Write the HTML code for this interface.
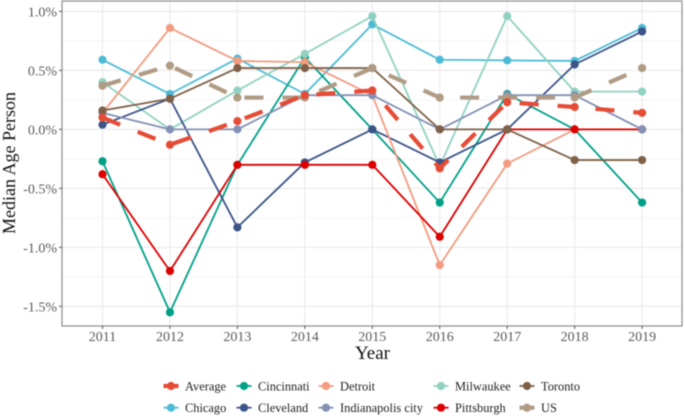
<!DOCTYPE html>
<html lang="en">
<head>
<meta charset="utf-8">
<title>Median Age Person</title>
<style>
html,body{margin:0;padding:0;background:#fff;}
svg{display:block;font-family:"Liberation Serif",serif;filter:blur(0.45px);}
</style>
</head>
<body>
<svg id="chart" xmlns="http://www.w3.org/2000/svg" width="685" height="416" viewBox="0 0 685 416"></svg>
<script>
const years = [2011,2012,2013,2014,2015,2016,2017,2018,2019];
const yTicks = [1.0,0.5,0,-0.5,-1.0,-1.5];
const yTickLabels = ['1.0%','0.5%','0.0%','-0.5%','-1.0%','-1.5%'];
const yMinorTicks = [0.75,0.25,-0.25,-0.75,-1.25];

const chicago = [0.59,0.30,0.60,0.30,0.89,0.59,0.585,0.58,0.86];
const cincinnati = [-0.27,-1.55,-0.30,0.61,0,-0.62,0.30,0,-0.62];
const cleveland = [0.04,0.26,-0.83,-0.28,0,-0.28,0,0.55,0.83];
const detroit = [0.14,0.86,0.58,0.57,0.29,-1.15,-0.29,0,0];
const indianapolis = [0.14,0,0,0.29,0.29,0,0.29,0.29,0];
const milwaukee = [0.40,0,0.33,0.64,0.96,-0.31,0.96,0.32,0.32];
const pittsburgh = [-0.38,-1.20,-0.30,-0.30,-0.30,-0.91,0,0,0];
const toronto = [0.16,0.26,0.52,0.52,0.52,0,0,-0.26,-0.26];
const usa = [0.37,0.54,0.27,0.27,0.52,0.27,0.27,0.27,0.52];
const average = [0.10,-0.13,0.07,0.29,0.33,-0.33,0.23,0.19,0.14];

const seriesList = [
  {name:'Chicago',slug:'chicago',color:'#4DBBD5',values:chicago},
  {name:'Cincinnati',slug:'cincinnati',color:'#00A087',values:cincinnati},
  {name:'Milwaukee',slug:'milwaukee',color:'#91D1C2',values:milwaukee},
  {name:'Cleveland',slug:'cleveland',color:'#3C5488',values:cleveland},
  {name:'Detroit',slug:'detroit',color:'#F39B7F',values:detroit},
  {name:'Pittsburgh',slug:'pittsburgh',color:'#DC0000',values:pittsburgh},
  {name:'Indianapolis city',slug:'indianapolis',color:'#8491B4',values:indianapolis},
  {name:'Toronto',slug:'toronto',color:'#7E6148',values:toronto},
  {name:'US',slug:'us',color:'#B09C85',values:usa,dashed:true},
  {name:'Average',slug:'average',color:'#E64B35',values:average,dashed:true}
];

const legendRows = [
  ['Average','Cincinnati','Detroit','Milwaukee','Toronto'],
  ['Chicago','Cleveland','Indianapolis city','Pittsburgh','US']
];
const legendColumnKeyX = [171,244,326,441,527];
const legendRowY = [386,407.7];

const NS = 'http://www.w3.org/2000/svg';
const svg = document.getElementById('chart');
const P = {l:62,r:682,t:1,b:326};
function xScale(year){return 102.5 + (year-2011)*67.45;}
function yScale(v){return 129.4 - v*118;}
function mk(tag,attrs,parent,text){
  const el = document.createElementNS(NS,tag);
  for(const k in attrs){el.setAttribute(k,attrs[k]);}
  if(text!==undefined){el.textContent=text;}
  (parent||svg).appendChild(el);
  return el;
}

// gridlines
const grid = mk('g',{});


yMinorTicks.forEach(v=>{
  const l = mk('line',{x1:P.l,x2:P.r,y1:yScale(v),y2:yScale(v),stroke:'#f2f2f2','stroke-width':0.8},grid);
  
  
});
yTicks.forEach(v=>{
  const l = mk('line',{x1:P.l,x2:P.r,y1:yScale(v),y2:yScale(v),stroke:'#ebebeb','stroke-width':1.2},grid);
  
  
});
years.forEach(y=>{
  const l = mk('line',{x1:xScale(y),x2:xScale(y),y1:P.t,y2:P.b,stroke:'#ebebeb','stroke-width':1.2},grid);
  
  
});

// series
seriesList.forEach(s=>{
  const g = mk('g',{});
  
  
  const pts = s.values.map((v,i)=>xScale(years[i])+','+yScale(v)).join(' ');
  const attrs = {points:pts,fill:'none',stroke:s.color,'stroke-width':s.dashed?4.2:1.8,'stroke-linejoin':'round'};
  if(s.dashed){attrs['stroke-dasharray']='19 19';}
  const line = mk('polyline',attrs,g);
  
  
  s.values.forEach((v,i)=>{
    const c = mk('circle',{cx:xScale(years[i]),cy:yScale(v),r:4.1,fill:s.color},g);
    
    
  });
});

// panel border
const border = mk('rect',{x:P.l,y:P.t,width:P.r-P.l,height:P.b-P.t,fill:'none',stroke:'#8c8c8c','stroke-width':1.2});



// y ticks
yTicks.forEach((v,i)=>{
  const tick = mk('line',{x1:P.l-3,x2:P.l,y1:yScale(v),y2:yScale(v),stroke:'#555','stroke-width':1});
  
  
  const t = mk('text',{x:P.l-5,y:yScale(v)+5,'text-anchor':'end','font-size':14,fill:'#5a5a5a'},svg,yTickLabels[i]);
  
  
});
// x ticks
years.forEach(y=>{
  const tick = mk('line',{x1:xScale(y),x2:xScale(y),y1:P.b,y2:P.b+3,stroke:'#555','stroke-width':1});
  
  
  const t = mk('text',{x:xScale(y),y:341,'text-anchor':'middle','font-size':14,fill:'#5a5a5a'},svg,String(y));
  
  
});

// axis titles
const xTitle = mk('text',{x:372.5,y:359,'text-anchor':'middle','font-size':19,fill:'#111'},svg,'Year');


const yTitle = mk('text',{x:0,y:0,transform:'translate(15,163) rotate(-90)','text-anchor':'middle','font-size':18,fill:'#111'},svg,'Median Age Person');



// legend
const legend = mk('g',{});


legendRows.forEach((row,ri)=>{
  row.forEach((name,ci)=>{
    const s = seriesList.find(d=>d.name===name);
    const kx = legendColumnKeyX[ci], ky = legendRowY[ri];
    const g = mk('g',{},legend);
    
    
    mk('line',{x1:kx-7.5,x2:kx+7.5,y1:ky,y2:ky,stroke:s.color,'stroke-width':s.dashed?4.2:1.8},g);
    mk('circle',{cx:kx,cy:ky,r:4.1,fill:s.color},g);
    mk('text',{x:kx+14,y:ky+4.3,'font-size':12.4,fill:'#222'},g,name);
  });
});
</script>
</body>
</html>
